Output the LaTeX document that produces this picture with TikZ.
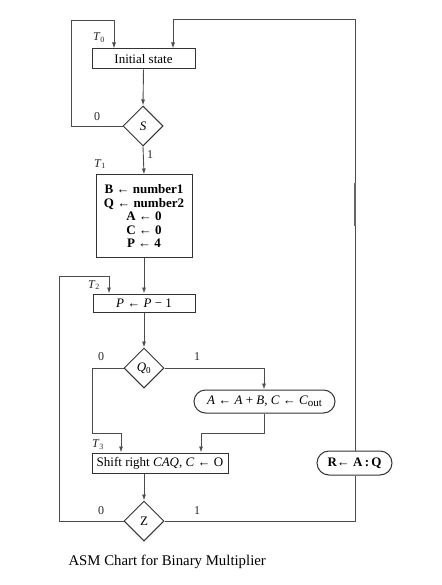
\documentclass[tikz,border=0pt]{standalone}
\usepackage{fontspec}
\setmainfont{Liberation Serif}
\usetikzlibrary{shapes.geometric, shapes.misc, arrows.meta}

\begin{document}
\begin{tikzpicture}[x=1pt, y=-1pt, font=\fontsize{13}{15}\selectfont]
		
		% Setup the styles for the boxes
		\tikzset{state box/.style={rectangle, draw=black!80, line width=1pt,
				inner sep=0pt, anchor=center},
			cond box/.style={diamond, aspect=1, draw=black!80, line width=1pt,
				minimum width=40pt, minimum height=40pt, inner sep=0pt},
			out box/.style={rounded rectangle, draw=black!80, line width=1pt,
				inner sep=0pt},
			flow/.style={draw=black!70, line width=0.9pt},
			arr/.style={flow, -{Latex[length=6pt, width=4pt]}},
			tag/.style={font=\fontsize{12}{13}\selectfont, text=black!85}}
		
		\useasboundingbox (0,0) rectangle (441,585);
		
		% Draw the states
		\node[state box, minimum width=103pt, minimum height=20pt] at (143.5, 59) (init) {Initial state};
		\node[cond box] at (143, 126) (S) {\textit{S}};
		\node[state box, minimum width=96pt, minimum height=82pt, align=center,
		font=\fontsize{13}{13.5}\selectfont\bfseries] at (144, 216) (load)
		{B ← number1\\Q ← number2\\A ← 0\\C ← 0\\P ← 4};
		\node[state box, minimum width=102pt, minimum height=18pt] at (144, 303) (dec)
		{\textit{P} ← \textit{P} − 1};
		\node[cond box] at (144, 368) (Q0) {\textit{Q}\textsubscript{0}};
		\node[out box, minimum width=141pt, minimum height=23pt] at (264.5, 401.5) (add)
		{\textit{A} ← \textit{A} + \textit{B}, \textit{C} ← \textit{C}\raisebox{-0.35ex}{\fontsize{11}{12}\selectfont out}};
		\node[state box, minimum width=136pt, minimum height=20pt] at (160, 463) (shift)
		{Shift right \textit{CAQ}, \textit{C} ← O};
		\node[cond box] at (144, 521) (Z) {Z};
		\node[out box, minimum width=75pt, minimum height=24pt, fill=white,
		font=\fontsize{13}{14}\selectfont\bfseries] at (354.5, 463) (R) {R← A\,:\,Q};
		
		% Corner points of the loops
		\coordinate (c0) at (114, 20);
		\coordinate (c1) at (173, 19);
		\coordinate (c2) at (109, 276);
		\coordinate (j0) at (92, 433);
		\coordinate (j1) at (121, 433);
		\coordinate (j2) at (201, 433);
		\coordinate (j3) at (264, 433);
		
		% Connect the states with arrows
		\draw[arr] (init.south) -- (S.north);
		\draw[arr] (S.west) -- (71, 126) |- (c0) -- (c0 |- init.north);
		\draw[arr] (S.south) -- (load.north);
		\draw[arr] (load.south) -- (dec.north);
		\draw[arr] (dec.south) -- (Q0.north);
		\draw[arr] (Q0.west) -| (j0) -- (j1) -- (j1 |- shift.north);
		\draw[arr] (Q0.east) -| (add.north -| j3);
		\draw[arr] (add.south -| j3) -- (j3) -- (j2) -- (j2 |- shift.north);
		\draw[arr] (shift.south -| Z) -- (Z.north);
		\draw[arr] (Z.west) -- (59, 521) |- (c2) -- (c2 |- dec.north);
		\draw[flow] (Z.east) -| (R.south -| 355, 0);
		\draw[arr] (R.north -| 355, 0) |- (c1) -- (c1 |- init.north);
		\draw[draw=black!60, line width=1.8pt] (355, 183) -- (355, 226);
		
		% Labels on the branches
		\node[tag] at (99, 38) {\textit{T}\textsubscript{0}};
		\node[tag] at (97, 117) {0};
		\node[tag] at (150, 155) {1};
		\node[tag] at (100, 164) {\textit{T}\textsubscript{1}};
		\node[tag] at (94, 285) {\textit{T}\textsubscript{2}};
		\node[tag] at (101, 357) {0};
		\node[tag] at (197, 357) {1};
		\node[tag] at (98, 445) {\textit{T}\textsubscript{3}};
		\node[tag] at (101, 511) {0};
		\node[tag] at (197, 511) {1};
		
		% Caption
		\node[anchor=west, font=\fontsize{14.8}{16}\selectfont] at (65, 562) (title)
		{ASM Chart for Binary Multiplier};
\end{tikzpicture}
\end{document}
